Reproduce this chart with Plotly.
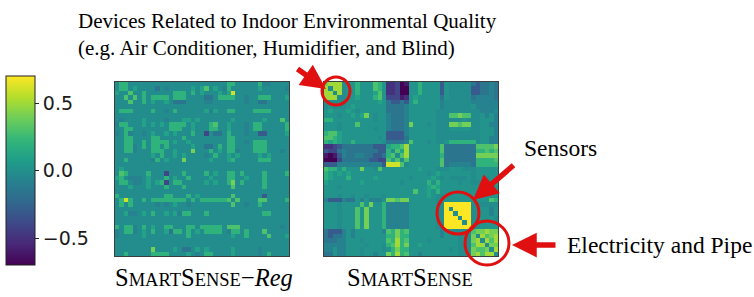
import numpy as np
import plotly.graph_objects as go

# Cell readings, one character per cell, tenths of the colour scale:
# '.'=about 0, ':'=just above 0, 1..7=+0.1..+0.7, a..g=negative levels
LEVELS = {'.': -0.02, ':': 0.02,
          '1': 0.1, '2': 0.2, '3': 0.3, '4': 0.4, '5': 0.5, '6': 0.6, '7': 0.7,
          'a': -0.08, 'b': -0.15, 'c': -0.3, 'd': -0.4, 'e': -0.5, 'f': -0.6, 'g': -0.7}

regularised_rows = [
    ".22.. ..... ..... ..... ..... 22... ..2aa ....",
    ".22.1 ....b .a... ..1.1 3.1.a 2.... ..1.. ...a",
    "1..3. .2... ...22 2.2.1 ...1. 16... ..... ....",
    "..3.3 .2.22 22.22 2.... bb.22 22..a ..222 ...1",
    "...3. .2.1. .1.bb b.... aa... ....a ..bb. ....",
    "..... ..... ..... ..... ..... ..... ..... ....",
    ".222. ...2. .a.2. ..... 1a1.. 22... .2222 ....",
    "..... ..... ..... ..... ..... ..... ..... ....",
    ".a... .1... .a... 11.1. ..... .1... ...1. ..3.",
    "a22.. .1.1. 1.222 2.1.. .23.. 1...a .22.. ...2",
    "..22. ..... ..222 ..1.. .22.. 1...a .22.. ...2",
    "a.2a. .a.1. .1.1. ..2.. d.bb. 2...a ..cc. ...1",
    "..22. ...22 ..... 2.... ..... 22... ..... ....",
    "..22. .2.22 22.1. .1... ..... 22..a .222. ....",
    "..22a .2.22 .2... ..1.. bb.2. 22... .222. ....",
    "..22a ...22 2..1. ..4.. .2.1. 22a.. .222. ..a.",
    "..... ...1. 2..1. 1.... a.2.. 1.1.. ..1.1 ....",
    "..2.. ...a2 .1... 4.... .1... 12... ..222 ....",
    "..... ..... ..... ..... ..... ..... ..... ....",
    ".1... ..... ..... ..... ..... ..... ..... ....",
    ".32.. ..2.. .d... 2.... 2.1.. 22.2. ...2. ...2",
    "12.aa a.1.. .2.1. .2... .1... 22..1 ...2. ....",
    ".22.a a.1.1 2d.22 ..... 1.1.. 24.2. ...2. ....",
    "...1. ..1.. .2... 2.... ..... .3... ...2. ....",
    "..... ..... ..... ..... ..... ..... ..... ....",
    "2.... ..... .22.. .2.1. ..... .3... ...c. ....",
    ".262. .2.22 22222 2.2.2 22222 3.3.. ..33. ...2",
    ".2.2. ....a .a.1. .a... ..... .3..a ..2.. ....",
    "..... ..... ..... ..... ..... ..... ..... ....",
    "..1aa .1.2. .1.1a 22... 2.... ..... ...22 ....",
    "..... ..... ..... ..... ..... ..... ..... ....",
    "..... ..... ..... ..... ..... ..... ..... ....",
    "2.22a .2.1. .22.. .22.2 2222. 333.. ..... ..a.",
    "a.22a .1.2. .1b22 .2.1. 2222. a22.2 ...3. ....",
    "a.... .1... ..... .2... ..... .1..2 ....3 ...1",
    "..... ..... ..... ..... ..... ..... ..... ....",
    "..... ..... ..... ..... ..... ..... ..... ....",
    "..... ...4. ...1. bb.1. 1.... .1... ..a.. ....",
    "..2.. ...22 22... .1.a. 22... .1... ..a.2 ....",
]

smartsense_rows = [
    "4555. ::2:: :32:e edgf: :2::: :c:.. ...bc bbab",
    "5.55. ::2:: :32:e edgg: :2::: :c:.. ...cc bbab",
    "55.5. ::2:: :13:e edgg: :2::: :c:.. ...cc bbab",
    "555.. ::1:: :23:d ddfe: 1:::: :b:.. ...ba aaab",
    "..... ::::: ::1:b ccbc: 2:::: :a... ...aa aaaa",
    ".:... :1::: ::::b bbba: ::::: :a... ...:a aaaa",
    ":1::: 1:.:: ::::b bbba: ::::: ..... ..... aaa.",
    ":::.: :1:14 :.::a bbba: ::::: ...33 433.. :a:a",
    "22::: ::::: :.::a bbba: ::::: ..... .:... :::a",
    ":::.: ::3:: ::::a bbba4 :::.: ...44 344.. ::aa",
    ":::.: ::::: :.::a bbba: ::::: ...:: :::.. :::a",
    "2331: ::::: ::::c ccca: ::::: ..... ..... :::a",
    "3321: ::::: ::.:c cccb: ::::: ..... ..... ::aa",
    "2121: :2::: :::.b bbba3 :::.: ..:22 2222. ::aa",
    "eedcb bbbbb bccc1 2235: ::::: :3bbb bbbb3 3334",
    "cddba bbbbb bbcc2 .315: ::::: :3bbb bbbb2 2323",
    "fgfca bbaab bccb2 3.35: ::::: :2bbb bbbb4 4444",
    "gggdb bbbbb ccdd3 13.3: ::::: :3bbb bbbb2 2223",
    "cccaa aaaaa aaac6 663.: ::::: :3baa aaab2 2222",
    "322:2 :::4: :.3:: ::::: :1::: ...:: :...: ::::",
    "21:1: 1:::: ::::: ::::: :::.: 1:::: :::.: ::::",
    "21::: 2:::: :1::: ::::. ::::1 :.:.. ..:.: :.::",
    "1:::: :::1: ::::: ::.:: :::2: 2:::: .::.. :::1",
    ":::.: ::::: ::::: ::::: :::12 1:::: ::::: ::::",
    "::::: ::::: ::::: ::::: 3::1: 2:::: ::::: ::::",
    ":::.: :.::. :::.: ::::: :::1: ..::: ::::: ::::",
    "accca bb:a: aaa:4 4344: ::::: .:::: ::::: ::32",
    ":::.: :::3: 4::2a aaaa: ::::: ..777 777.. ....",
    ":::.: ::3:4 :::2a aaaa: ::::: ..7.7 777.. ::a:",
    ":::.: ::3:4 :::2a aaaa: ::::: ..77. 777.. ::a:",
    ":::.: ::3:4 :::2a aaaa: ::::: ..777 .77.. :::.",
    ":::.: ::3:4 :::2a aaaa: ::::: ..777 7.7.. ::::",
    ":::.: ::3:4 :::2a aaaa: ::::: ..777 777.. ::::",
    "bccca :a::: :::a3 2423: ::::: :a::. ...34 4544",
    "bcbba :a::: ::::2 2422: ::::: :a::: ...4. 5345",
    "bbbaa :::.: ::::3 2523: :::.: ::::: ...45 .535",
    "aaaaa ::::. :::.2 3524: :1::: ::::: ...35 5.44",
    "aa:aa :::.: :::.: 2422: ::::: :::.: ...43 34.5",
    "bb:aa :::.: :a::4 2523: :a::: ::::: ...45 355.",
]

color_range = [-0.7, 0.7]
colorbar_ticks = [-0.5, 0.0, 0.5]
colorbar_labels = ["\u22120.5", "0.0", "0.5"]

SERIF = "Liberation Serif"
RED = "#e01010"


def decode(rows):
    cleaned = [r.replace(" ", "") for r in rows]
    return [[LEVELS[c] for c in r] for r in cleaned]


W, H = 754, 297


def px(x):
    return x / W


def py(y):
    return 1 - y / H


fig = go.Figure()
for z, xa, ya in [(decode(regularised_rows), "x", "y"), (decode(smartsense_rows), "x2", "y2")]:
    fig.add_trace(go.Heatmap(z=z, coloraxis="coloraxis", xaxis=xa, yaxis=ya, xgap=0, ygap=0,
                             hoverinfo="skip"))


def axis_common():
    return dict(showticklabels=False, ticks="", showgrid=False, zeroline=False,
                showline=True, mirror=True, linecolor="#3a3f3f", linewidth=1)


fig.update_layout(
    width=W, height=H,
    margin=dict(l=0, r=0, t=0, b=0, autoexpand=False),
    paper_bgcolor="white", plot_bgcolor="white", showlegend=False,
    coloraxis=dict(
        colorscale="Viridis", cmin=color_range[0], cmax=color_range[1],
        colorbar=dict(
            x=px(6), xanchor="left", xpad=0, y=py(170.5), yanchor="middle", ypad=0,
            thickness=29, thicknessmode="pixels", len=189, lenmode="pixels",
            outlinecolor="#222", outlinewidth=1,
            tickmode="array", tickvals=colorbar_ticks, ticktext=colorbar_labels,
            ticks="outside", ticklen=4, tickwidth=1, tickcolor="#222",
            tickfont=dict(family="DejaVu Sans", size=19, color="#1a1a1a"),
        ),
    ),
    xaxis=dict(domain=[px(115), px(289)], **axis_common()),
    yaxis=dict(domain=[py(256), py(82)], autorange="reversed", **axis_common()),
    xaxis2=dict(domain=[px(324), px(498)], anchor="y2", **axis_common()),
    yaxis2=dict(domain=[py(256), py(82)], anchor="x2", autorange="reversed", **axis_common()),
)


def label(x, y, text, size=21):
    fig.add_annotation(xref="paper", yref="paper", x=px(x), y=py(y), text=text, showarrow=False,
                       xanchor="left", yanchor="middle", align="left",
                       font=dict(family=SERIF, size=size, color="black"))


def small_caps(word_parts):
    return "".join(f"{a}<span style='font-size:18.5px'>{b}</span>" for a, b in word_parts)


label(76, 21, "Devices Related to Indoor Environmental Quality")
label(76, 48, "(e.g. Air Conditioner, Humidifier, and Blind)")
label(522, 148, "Sensors", size=23.5)
label(565, 245, "Electricity and Pipe", size=23.5)
label(113, 277, small_caps([("S", "MART"), ("S", "ENSE")]) + "\u2212<i>Reg</i>", size=24.5)
label(345, 277, small_caps([("S", "MART"), ("S", "ENSE")]), size=24.5)

for cx, cy, r in [(336, 91, 14), (458, 213, 21), (487, 243, 22)]:
    fig.add_shape(type="circle", xref="paper", yref="paper",
                  x0=px(cx - r), x1=px(cx + r), y0=py(cy + r), y1=py(cy - r),
                  line=dict(color=RED, width=3), fillcolor="rgba(0,0,0,0)")

for tail, tip in [((296, 68), (326, 89)), ((515, 164), (473, 200)), ((557, 245), (512, 245))]:
    fig.add_annotation(xref="paper", yref="paper", x=px(tip[0]), y=py(tip[1]),
                       axref="pixel", ayref="pixel", ax=tail[0] - tip[0], ay=tail[1] - tip[1],
                       text="", showarrow=True, arrowhead=2, arrowsize=0.9, arrowwidth=5.5,
                       arrowcolor=RED, standoff=0, startstandoff=0)

fig.write_html("out.html", config={"displayModeBar": False},
               post_script="document.body.style.margin='0';")
